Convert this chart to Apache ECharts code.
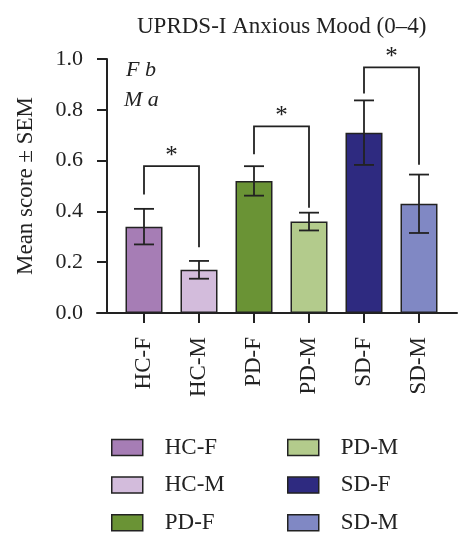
<!DOCTYPE html>
<html>
<head>
<meta charset="utf-8">
<script src="https://cdn.jsdelivr.net/npm/echarts@6/dist/echarts.min.js"></script>
<style>
  html, body { margin: 0; padding: 0; background: #fff; }
  #main { width: 474px; height: 545px; }
</style>
</head>
<body>
<div id="main"></div>
<script>
// groups on the x axis
var groups = ['HC-F', 'HC-M', 'PD-F', 'PD-M', 'SD-F', 'SD-M'];
// mean score of each group
var means = [0.34, 0.17, 0.52, 0.36, 0.71, 0.43];
// standard error of the mean
var sems = [0.07, 0.035, 0.058, 0.035, 0.127, 0.115];
var colors = ['#a67db5', '#d3bcdc', '#6a9335', '#b3cb8c', '#2e2a80', '#8088c4'];
// significance brackets: [left group, right group, left foot, top, right foot]
var brackets = [
  [0, 1, 0.467, 0.578, 0.259],
  [2, 3, 0.625, 0.735, 0.414],
  [4, 5, 0.864, 0.967, 0.584]
];
var yTicks = [0, 0.2, 0.4, 0.6, 0.8, 1.0];

var FONT = 'Liberation Serif';
var INK = '#222';

var myChart = echarts.init(document.getElementById('main'));

var series = [];
groups.forEach(function (g, i) {
  var d = groups.map(function (x, j) { return j === i ? means[j] : '-'; });
  series.push({
    name: g,
    type: 'bar',
    data: d,
    barWidth: 37,
    barGap: '-100%',
    itemStyle: { color: colors[i], borderColor: INK, borderWidth: 1.5 },
    emphasis: { disabled: true }
  });
});

// error bars
series.push({
  type: 'custom',
  name: 'sem',
  z: 5,
  data: groups.map(function (g, i) { return [i, means[i] - sems[i], means[i] + sems[i]]; }),
  renderItem: function (params, api) {
    var lo = api.coord([api.value(0), api.value(1)]);
    var hi = api.coord([api.value(0), api.value(2)]);
    var half = 10;
    var st = { stroke: INK, lineWidth: 1.8 };
    return {
      type: 'group',
      children: [
        { type: 'line', shape: { x1: lo[0], y1: lo[1], x2: hi[0], y2: hi[1] }, style: st },
        { type: 'line', shape: { x1: lo[0] - half, y1: lo[1], x2: lo[0] + half, y2: lo[1] }, style: st },
        { type: 'line', shape: { x1: hi[0] - half, y1: hi[1], x2: hi[0] + half, y2: hi[1] }, style: st }
      ]
    };
  }
});

// significance brackets with star
series.push({
  type: 'custom',
  name: 'sig',
  z: 5,
  data: brackets,
  renderItem: function (params, api) {
    var a = api.coord([api.value(0), api.value(2)]);
    var b = api.coord([api.value(0), api.value(3)]);
    var c = api.coord([api.value(1), api.value(3)]);
    var d = api.coord([api.value(1), api.value(4)]);
    return {
      type: 'group',
      children: [
        { type: 'polyline', shape: { points: [a, b, c, d] },
          style: { stroke: INK, lineWidth: 1.8, fill: null } },
        { type: 'text', x: (b[0] + c[0]) / 2, y: b[1] + 3,
          style: { text: '*', font: '25px ' + FONT, fill: INK, align: 'center', verticalAlign: 'bottom' } }
      ]
    };
  }
});

// hidden helper to draw the long x axis line
series.push({ type: 'line', xAxisIndex: 1, yAxisIndex: 1, data: [], silent: true });

var legendText = { fontFamily: FONT, fontSize: 23, color: INK, lineHeight: 22, padding: [0, 0, 0, 17] };

var option = {
  animation: false,
  textStyle: { fontFamily: FONT },
  title: {
    text: 'UPRDS-I Anxious Mood (0–4)',
    left: 132,
    top: 10,
    textStyle: { fontFamily: FONT, fontSize: 23, fontWeight: 'normal', color: INK }
  },
  graphic: [
    { type: 'text', left: 126, top: 59, style: { text: 'F b', font: 'italic 22px ' + FONT, fill: INK } },
    { type: 'text', left: 124, top: 89, style: { text: 'M a', font: 'italic 22px ' + FONT, fill: INK } }
  ],
  legend: [
    {
      data: groups.slice(0, 3),
      orient: 'vertical',
      left: 106, top: 431,
      itemWidth: 31, itemHeight: 16, itemGap: 14.6,
      icon: 'rect',
      itemStyle: { borderColor: INK, borderWidth: 1.5 },
      selectedMode: false,
      textStyle: legendText
    },
    {
      data: groups.slice(3),
      orient: 'vertical',
      left: 282, top: 431,
      itemWidth: 31, itemHeight: 16, itemGap: 14.6,
      icon: 'rect',
      itemStyle: { borderColor: INK, borderWidth: 1.5 },
      selectedMode: false,
      textStyle: legendText
    }
  ],
  grid: [
    { left: 116.5, right: 27.5, top: 59, bottom: 232 },
    { left: 97, right: 17, top: 59, bottom: 232 }
  ],
  xAxis: [
    {
      type: 'category',
      data: groups,
      gridIndex: 0,
      axisLine: { show: false },
      axisTick: { show: true, alignWithLabel: true, length: 10, lineStyle: { color: INK, width: 2 } },
      axisLabel: { rotate: 90, margin: 24, fontFamily: FONT, fontSize: 23, color: INK }
    },
    {
      type: 'value',
      gridIndex: 1,
      min: 0, max: 1,
      axisLine: { show: true, lineStyle: { color: INK, width: 2 } },
      axisTick: { show: false },
      axisLabel: { show: false },
      splitLine: { show: false }
    }
  ],
  yAxis: [
    {
      type: 'value',
      gridIndex: 0,
      min: yTicks[0], max: yTicks[yTicks.length - 1], interval: 0.2,
      offset: 9.5,
      name: 'Mean score ± SEM',
      nameLocation: 'middle',
      nameGap: 70,
      nameTextStyle: { fontFamily: FONT, fontSize: 23, color: INK },
      axisLine: { show: true, lineStyle: { color: INK, width: 2 } },
      axisTick: { show: true, length: 10, lineStyle: { color: INK, width: 2 } },
      axisLabel: { margin: 24, fontFamily: FONT, fontSize: 22, color: INK,
        formatter: function (v) { return v.toFixed(1); } },
      splitLine: { show: false }
    },
    {
      type: 'value',
      gridIndex: 1,
      show: false
    }
  ],
  series: series
};

myChart.setOption(option);
</script>
</body>
</html>
